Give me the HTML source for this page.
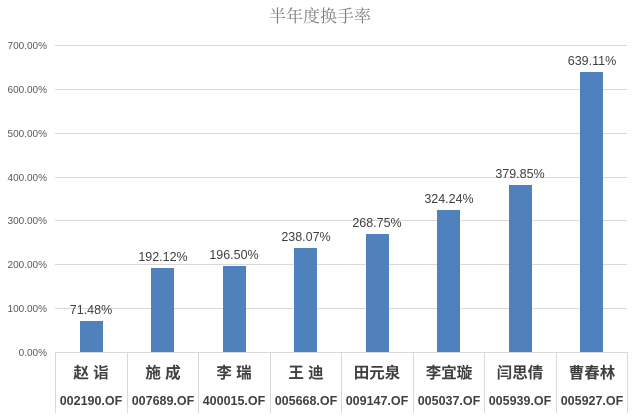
<!DOCTYPE html>
<html><head><meta charset="utf-8"><style>
body{margin:0;background:#fff;}
svg{display:block;font-family:"Liberation Sans","Noto Sans CJK SC",sans-serif;}
</style></head><body>
<svg width="640" height="416" viewBox="0 0 640 416">
<text x="320" y="22" text-anchor="middle" font-size="17" fill="#7f7f7f" font-family="Noto Serif CJK SC,serif">半年度换手率</text>
<g stroke="#d9d9d9" stroke-width="1">
<line x1="55" x2="627" y1="45.5" y2="45.5"/>
<line x1="55" x2="627" y1="89.5" y2="89.5"/>
<line x1="55" x2="627" y1="133.5" y2="133.5"/>
<line x1="55" x2="627" y1="177.5" y2="177.5"/>
<line x1="55" x2="627" y1="220.5" y2="220.5"/>
<line x1="55" x2="627" y1="264.5" y2="264.5"/>
<line x1="55" x2="627" y1="308.5" y2="308.5"/>
<line x1="55" x2="627" y1="352.5" y2="352.5"/>
<line x1="55.5" x2="55.5" y1="352" y2="413"/>
<line x1="127.5" x2="127.5" y1="352" y2="413"/>
<line x1="198.5" x2="198.5" y1="352" y2="413"/>
<line x1="270.5" x2="270.5" y1="352" y2="413"/>
<line x1="341.5" x2="341.5" y1="352" y2="413"/>
<line x1="413.5" x2="413.5" y1="352" y2="413"/>
<line x1="484.5" x2="484.5" y1="352" y2="413"/>
<line x1="556.5" x2="556.5" y1="352" y2="413"/>
<line x1="627.5" x2="627.5" y1="352" y2="413"/>
</g>
<g font-size="10" fill="#595959" text-anchor="end">
<text x="47" y="49">700.00%</text><text x="47" y="93">600.00%</text>
<text x="47" y="137">500.00%</text><text x="47" y="181">400.00%</text>
<text x="47" y="224">300.00%</text><text x="47" y="268">200.00%</text>
<text x="47" y="312">100.00%</text><text x="47" y="356">0.00%</text>
</g>
<g fill="#4f81bd">
<rect x="80" y="321" width="23" height="31"/>
<rect x="151" y="268" width="23" height="84"/>
<rect x="223" y="266" width="23" height="86"/>
<rect x="294" y="248" width="23" height="104"/>
<rect x="366" y="234" width="23" height="118"/>
<rect x="437" y="210" width="23" height="142"/>
<rect x="509" y="185" width="23" height="167"/>
<rect x="580" y="72" width="23" height="280"/>
</g>
<g font-size="12.5" fill="#404040" text-anchor="middle">
<text x="91" y="314">71.48%</text><text x="163" y="261">192.12%</text>
<text x="234" y="259">196.50%</text><text x="306" y="241">238.07%</text>
<text x="377" y="227">268.75%</text><text x="449" y="203">324.24%</text>
<text x="520" y="178">379.85%</text><text x="592" y="65">639.11%</text>
</g>
<g font-size="15.5" fill="#404040" text-anchor="middle" font-weight="bold">
<text x="91" y="378">赵 诣</text><text x="163" y="378">施 成</text>
<text x="234" y="378">李 瑞</text><text x="306" y="378">王 迪</text>
<text x="377" y="378">田元泉</text><text x="449" y="378">李宜璇</text>
<text x="520" y="378">闫思倩</text><text x="592" y="378">曹春林</text>
</g>
<g font-size="12.5" font-weight="bold" fill="#404040" text-anchor="middle">
<text x="91" y="405">002190.OF</text><text x="163" y="405">007689.OF</text>
<text x="234" y="405">400015.OF</text><text x="306" y="405">005668.OF</text>
<text x="377" y="405">009147.OF</text><text x="449" y="405">005037.OF</text>
<text x="520" y="405">005939.OF</text><text x="592" y="405">005927.OF</text>
</g>
</svg>
</body></html>
